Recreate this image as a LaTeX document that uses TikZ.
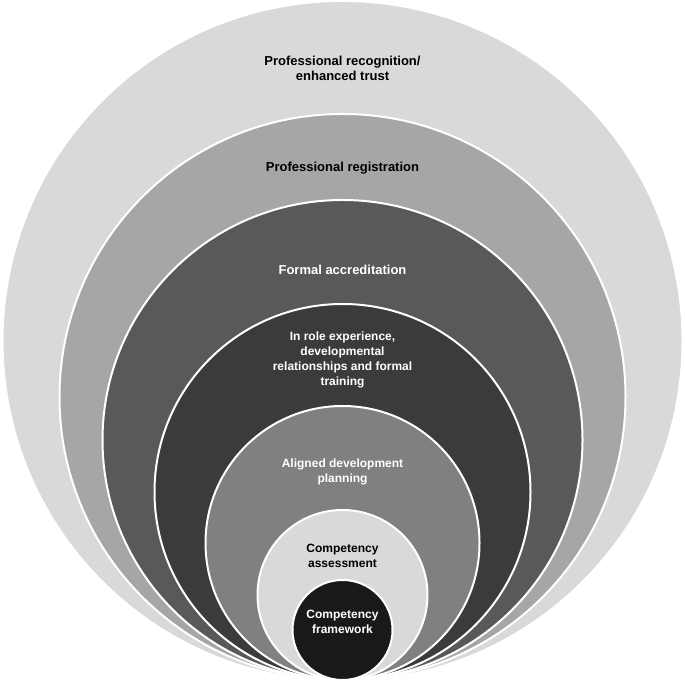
\documentclass[tikz,border=0pt]{standalone}
\usepackage{fontspec}
\setmainfont{Liberation Sans}
\usetikzlibrary{positioning}
\tikzset{
  ring/.style={circle, draw=white, line width=2pt, inner sep=0pt, minimum size=#1},
  lbl/.style={font=\bfseries\fontsize{13}{15}\selectfont, align=center},
}
\begin{document}
\begin{tikzpicture}[x=1pt, y=1pt]
  \useasboundingbox (0,0) rectangle (685,682);
  % nested rings, all touching at the bottom
  \node[ring=680pt, fill=black!15] (recog) at (342.5,341) {};
  \node[ring=566pt, fill=black!35] (regis) at (342.5,285) {};
  \node[ring=480pt, fill=black!65] (accr) at (342.5,242) {};
  \node[ring=376pt, fill=black!77] (exper) at (342.5,190) {};
  \node[ring=274pt, fill=black!50] (plan) at (342.5,139) {};
  \node[ring=170pt, fill=black!15] (assess) at (342.5,87) {};
  \node[ring=100pt, fill=black!90] (frame) at (342.5,52) {};
  % labels
  \node[lbl] (trecog) at (342.5,614) {Professional recognition/\\enhanced trust};
  \node[lbl] (tregis) at (342.5,514) {Professional registration};
  \node[lbl, text=white] (taccr) at (342.5,412) {Formal accreditation};
  \node[lbl, text=white, font=\bfseries\fontsize{12}{15}\selectfont] (texper) at (342.5,322)
    {In role experience,\\developmental\\relationships and formal\\training};
  \node[lbl, text=white, font=\bfseries\fontsize{12}{15}\selectfont] (tplan) at (342.5,210)
    {Aligned development\\planning};
  \node[lbl, font=\bfseries\fontsize{12}{15}\selectfont] (tassess) at (342.5,126)
    {Competency\\assessment};
  \node[lbl, text=white, font=\bfseries\fontsize{12}{15}\selectfont] (tframe) at (342.5,60)
    {Competency\\framework};
\end{tikzpicture}
\end{document}
